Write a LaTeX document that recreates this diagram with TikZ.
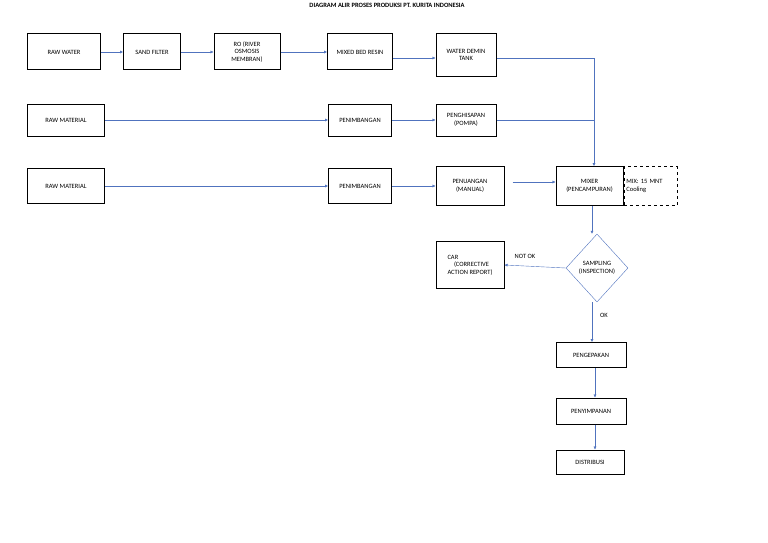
\documentclass[tikz,border=0pt]{standalone}
\usepackage{fontspec}
\setmainfont{Carlito}
\usetikzlibrary{shapes.geometric,arrows.meta}
\definecolor{flow}{RGB}{80,115,190}

\begin{document}
\begin{tikzpicture}[x=1pt,y=-1pt,
    box/.style={draw, line width=1pt, align=center, font=\fontsize{6.5}{7.5}\selectfont, inner sep=1pt},
    arr/.style={draw=flow, -{Latex[length=3pt,width=3pt]}},
    lbl/.style={font=\fontsize{6.5}{7.5}\selectfont}]
    \useasboundingbox (0,0) rectangle (768,543);
    \node[font=\bfseries\fontsize{6.5}{7.5}\selectfont] (title) at (387,5) {DIAGRAM ALIR PROSES PRODUKSI PT. KURITA INDONESIA};
		% baris air
		\node[box, minimum width=73, minimum height=36] (rawwater) at (64,52) {RAW WATER};
		\node[box, minimum width=57, minimum height=36] (sand) at (152,52) {SAND FILTER};
		\node[box, minimum width=66, minimum height=36] (ro) at (247,52) {RO (RIVER\\OSMOSIS\\MEMBRAN)};
		\node[box, minimum width=65, minimum height=36] (resin) at (360,52) {MIXED BED RESIN};
		\node[box, minimum width=60, minimum height=42] (demin) at (466,55) {WATER DEMIN\\TANK};
		% baris bahan
		\node[box, minimum width=77, minimum height=32] (raw1) at (66,120) {RAW MATERIAL};
		\node[box, minimum width=63, minimum height=32] (timbang1) at (360,120) {PENIMBANGAN};
		\node[box, minimum width=60, minimum height=32] (hisap) at (466,120) {PENGHISAPAN\\(POMPA)};
		\node[box, minimum width=77, minimum height=35] (raw2) at (66,186) {RAW MATERIAL};
		\node[box, minimum width=63, minimum height=35] (timbang2) at (360,186) {PENIMBANGAN};
		\node[box, minimum width=68, minimum height=39] (tuang) at (470,186) {PENUANGAN\\(MANUAL)};
		% proses
		\node[box, minimum width=67, minimum height=39] (mixer) at (589.5,186) {MIXER\\(PENCAMPURAN)};
		\node[draw, dashed, line width=0.8pt, minimum width=53, minimum height=39, anchor=west, align=left, font=\fontsize{6.5}{7.5}\selectfont, text width=48, inner sep=1pt] (mix) at (mixer.east) {MIX: 15 MNT\\Cooling\\[7pt]};
		\node[draw=flow, diamond, minimum width=62, minimum height=68, inner sep=0pt, align=center, font=\fontsize{6.5}{7.5}\selectfont] (sampling) at (597,268) {SAMPLING\\(INSPECTION)};
		\node[box, minimum width=68, minimum height=47, align=left] (car) at (470,265) {CAR\\\quad(CORRECTIVE\\ACTION REPORT)};
		\node[box, minimum width=70, minimum height=25] (kemas) at (591,355) {PENGEPAKAN};
		\node[box, minimum width=70, minimum height=26] (simpan) at (591,411) {PENYIMPANAN};
		\node[box, minimum width=68, minimum height=24] (distribusi) at (590,462) {DISTRIBUSI};
		\coordinate (belok) at (594,58);
		\node[lbl] (notok) at (525,256) {NOT OK};
		\node[lbl] (ok) at (604,315) {OK};
		% panah
		\draw[arr] (rawwater) -- (sand);
		\draw[arr] (sand) -- (ro);
		\draw[arr] (ro) -- (resin);
		\draw[arr] (resin.east) ++(0,6) -- (demin.west |- 0,58);
		\draw[arr] (demin.east |- belok) -- (belok) -- (mixer.north -| belok);
		\draw[arr] (raw1) -- (timbang1);
		\draw[arr] (timbang1) -- (hisap);
		\draw[draw=flow] (hisap.east) -- (hisap.east -| belok);
		\draw[arr] (raw2) -- (timbang2);
		\draw[arr] (timbang2) -- (tuang);
		\draw[arr] (tuang.east) ++(8,-4) -- (mixer.west |- 0,182);
		\draw[arr] (mixer.south -| 592,0) -- (sampling.north -| 592,0);
		\draw[arr] (sampling.west) -- (car.east);
		\draw[arr] (sampling.south -| 592,0) -- (kemas.north -| 592,0);
		\draw[arr] (kemas.south -| 595,0) -- (simpan.north -| 595,0);
		\draw[arr] (simpan.south -| 595,0) -- (distribusi.north -| 595,0);
\end{tikzpicture}
\end{document}
